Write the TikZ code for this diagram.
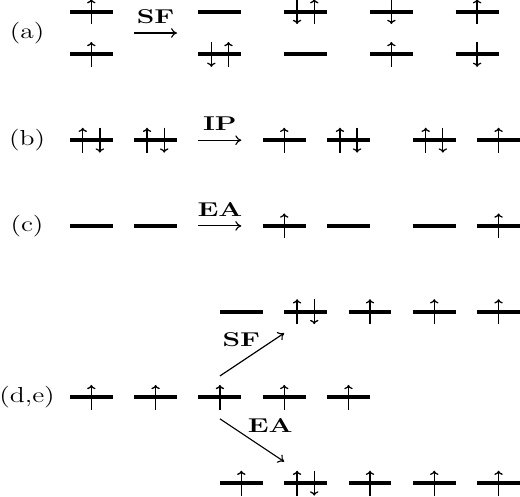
\documentclass[tikz,border=0pt]{standalone}
\usepackage{amsmath}
\usetikzlibrary{arrows.meta,positioning}

\newcommand{\orb}[2]{\draw[level] ({#1-1},#2) -- ({#1+1},#2);}
\newcommand{\spinup}[3]{\draw[spin] ({#1+#3},{#2-0.58}) -- ({#1+#3},{#2+0.58});}
\newcommand{\spindn}[3]{\draw[spin] ({#1+#3},{#2+0.58}) -- ({#1+#3},{#2-0.58});}

\begin{document}
\begin{tikzpicture}[x=0.5cm,y=0.5cm,
    tag/.style={font=\Large,xscale=1.27},
    proc/.style={font=\Large\bfseries,xscale=1.3,yscale=0.92},
    level/.style={line width=2.6pt},
    spin/.style={line width=0.85pt,-{Computer Modern Rightarrow[length=2.8pt,width=5.6pt]}},
    trans/.style={line width=0.75pt,-{Computer Modern Rightarrow[length=4pt,width=6.4pt]}}]
  \useasboundingbox (-4.26,-4.61) rectangle (20,18.54);

  % (a) spin flip
  \begin{scope}
    \node (la) [tag] at (-3,17) {(a)};
    \foreach \x in {0,6,10,14,18} {\orb{\x}{18} \orb{\x}{16}}
    \spinup{0}{18}{0}
    \spindn{10}{18}{-0.4} \spinup{10}{18}{0.4}
    \spindn{14}{18}{0}
    \spinup{18}{18}{0}
    \spinup{0}{16}{0}
    \spindn{6}{16}{-0.4} \spinup{6}{16}{0.4}
    \spinup{14}{16}{0}
    \spindn{18}{16}{0}
    \coordinate (sfa0) at (2,17);
    \coordinate (sfa1) at (4,17);
    \draw[trans] (sfa0) -- node (sfa) [proc,above=3pt] {SF} (sfa1);
  \end{scope}

  % (b) ionization
  \begin{scope}
    \node (lb) [tag] at (-3,12) {(b)};
    \foreach \x in {0,3,9,12,16,19} {\orb{\x}{12}}
    \foreach \x in {0,3,12,16} {\spinup{\x}{12}{-0.4} \spindn{\x}{12}{0.4}}
    \spinup{9}{12}{0}
    \spinup{19}{12}{0}
    \coordinate (ipb0) at (5,12);
    \coordinate (ipb1) at (7,12);
    \draw[trans] (ipb0) -- node (ipb) [proc,above=3pt] {IP} (ipb1);
  \end{scope}

  % (c) attachment
  \begin{scope}
    \node (lc) [tag] at (-3,8) {(c)};
    \foreach \x in {0,3,9,12,16,19} {\orb{\x}{8}}
    \spinup{9}{8}{0}
    \spinup{19}{8}{0}
    \coordinate (eac0) at (5,8);
    \coordinate (eac1) at (7,8);
    \draw[trans] (eac0) -- node (eac) [proc,above=3pt] {EA} (eac1);
  \end{scope}

  % (d,e) high spin reference
  \begin{scope}
    \node (lde) [tag] at (-3,0) {(d,e)};
    \foreach \x in {0,3,6,9,12} {\orb{\x}{0} \spinup{\x}{0}{0}}
    \foreach \x in {7,10,13,16,19} {\orb{\x}{4} \orb{\x}{-4}}
    \spinup{10}{4}{-0.4} \spindn{10}{4}{0.4}
    \spinup{10}{-4}{-0.4} \spindn{10}{-4}{0.4}
    \foreach \x in {13,16,19} {\spinup{\x}{4}{0} \spinup{\x}{-4}{0}}
    \spinup{7}{-4}{0}
    \coordinate (sfd0) at (6,1);
    \coordinate (sfd1) at (9,3);
    \coordinate (eae0) at (6,-1);
    \coordinate (eae1) at (9,-3);
    \draw[trans] (sfd0) -- (sfd1);
    \draw[trans] (eae0) -- (eae1);
    \node (sfd) [proc] at (7,2.7) {SF};
    \node (eae) [proc] at (8.35,-1.3) {EA};
  \end{scope}
\end{tikzpicture}
\end{document}
